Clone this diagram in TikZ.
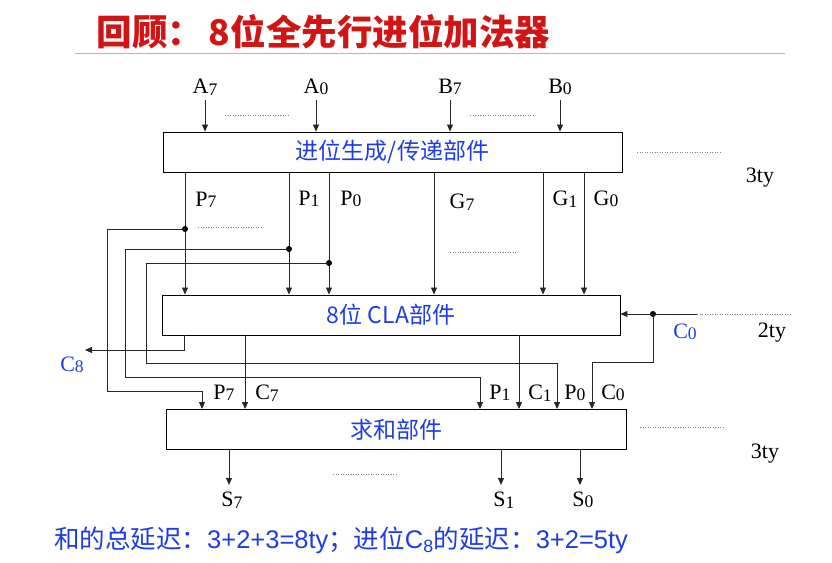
\documentclass[tikz,border=0pt]{standalone}
\usepackage{fontspec}
\setmainfont{Liberation Serif}
\newfontfamily\cjk{Noto Sans CJK SC}
\newfontfamily\sans{Liberation Sans}
\usetikzlibrary{arrows.meta}
\definecolor{tblue}{RGB}{30,60,230}
\definecolor{tred}{RGB}{210,20,20}
\newcommand{\ix}[1]{\raisebox{-0.15ex}{\scalebox{0.8}{#1}}}
\begin{document}
\begin{tikzpicture}[x=1pt,y=-1pt,
  box/.style={draw, line width=0.9pt, minimum height=40pt, inner sep=0pt,
    font=\cjk\fontsize{23}{26}\selectfont, text=tblue},
  lbl/.style={font=\fontsize{22}{26}\selectfont, inner sep=0pt},
  wire/.style={line width=0.8pt, black!85},
  arr/.style={wire, -{Triangle[length=7pt,width=6pt]}},
  dots/.style={gray, line width=0.5pt, dotted},
  jn/.style={circle, fill, inner sep=0pt, minimum size=6pt}]
\useasboundingbox (0,0) rectangle (832,562);

% title
\node[font=\cjk\bfseries\fontsize{35.5}{38}\selectfont, text=tred, anchor=west] (title) at (93,32) {回顾：\,8位全先行进位加法器};
\draw[orange!60!yellow, line width=0.6pt] (75,53) -- (785,53);

% boxes
\node[box, minimum width=459pt] (b1) at (392.5,152) {进位生成/传递部件};
\node[box, minimum width=458pt] (b2) at (391,315) {8位 CLA部件};
\node[box, minimum width=460pt] (b3) at (396,429.5) {求和部件};

% inputs
\foreach \n/\x/\t in {a7/205/A\ix{7}, a0/316/A\ix{0}, b7/450/B\ix{7}, b0/560/B\ix{0}}{
  \node[lbl] (\n) at (\x,87) {\t};
  \coordinate (\n t) at (\x,100);
  \draw[arr] (\n t) -- (b1.north -| \n t);
}
\draw[dots] (225,115) -- (290,115);
\draw[dots] (470,115) -- (535,115);
\draw[dots] (637,152) -- (720,152);
\node[lbl] (t1) at (760,178) {3ty};

% P, G signals
\foreach \n/\x in {p7/185, p1/289, p0/329, g7/434, g1/543, g0/584}{
  \coordinate (\n) at (\x,172);
  \draw[arr] (\n) -- (b2.north -| \n);
}
\node[lbl] (lp7) at (206,200) {P\ix{7}};
\node[lbl] (lp1) at (309,199) {P\ix{1}};
\node[lbl] (lp0) at (351,199) {P\ix{0}};
\node[lbl] (lg7) at (462,202) {G\ix{7}};
\node[lbl] (lg1) at (565,199) {G\ix{1}};
\node[lbl] (lg0) at (606,199) {G\ix{0}};
\draw[dots] (198,227) -- (263,227);
\draw[dots] (450,252) -- (517,252);

% branches to sum unit
\node[jn] (d7) at (185,229) {};
\node[jn] (d1) at (289,249) {};
\node[jn] (d0) at (329,263) {};
\coordinate (s7) at (202,409);
\coordinate (s1) at (480,409);
\coordinate (s0) at (557,409);
\draw[arr] (d7.center) -- (107,229) -- (107,391) -- (202,391) -- (s7);
\draw[arr] (d1.center) -- (125,249) -- (125,377) -- (480,377) -- (s1);
\draw[arr] (d0.center) -- (146,263) -- (146,363) -- (557,363) -- (s0);

% carry in
\coordinate (c0in) at (697,314);
\node[jn] (dc) at (653,314) {};
\draw[arr] (c0in) -- (b2.east |- c0in);
\draw[dots] (697,314) -- (790,314);
\draw[arr] (dc.center) -- (653,362) -- (592,362) -- (592,409);
\node[lbl, text=tblue] (lc0) at (685,332) {C\ix{0}};
\node[lbl] (t2) at (772,333) {2ty};

% carry out
\coordinate (c8) at (85,350);
\draw[arr] (b2.south -| 184,0) -- (184,350) -- (c8);
\node[lbl, text=tblue] (lc8) at (72,365) {C\ix{8}};

% carries to sum
\draw[arr] (b2.south -| 245,0) -- (245,409);
\draw[arr] (b2.south -| 519,0) -- (519,409);
\node[lbl] (ls7) at (224,393) {P\ix{7}};
\node[lbl] (lsc7) at (267,393) {C\ix{7}};
\node[lbl] (ls1) at (500,393) {P\ix{1}};
\node[lbl] (lsc1) at (540,393) {C\ix{1}};
\node[lbl] (ls0) at (575,393) {P\ix{0}};
\node[lbl] (lsc0) at (613,393) {C\ix{0}};
\draw[dots] (640,427) -- (725,427);
\node[lbl] (t3) at (765,454) {3ty};

% sums
\foreach \n/\x/\t in {o7/229/S\ix{7}, o1/501/S\ix{1}, o0/580/S\ix{0}}{
  \coordinate (\n e) at (\x,485);
  \draw[arr] (b3.south -| \n e) -- (\n e);
  \node[lbl] (\n) at (\x+3,500) {\t};
}
\draw[dots] (333,474) -- (398,474);

% summary
\node[anchor=west, text=tblue, font=\fontsize{25.5}{28}\selectfont, inner sep=0pt] (sum) at (54,540)
  {{\cjk 和的总延迟：}{\sans 3+2+3=8ty}{\cjk ；进位}{\sans C\textsubscript{8}}{\cjk 的延迟：}{\sans 3+2=5ty}};
\end{tikzpicture}
\end{document}
